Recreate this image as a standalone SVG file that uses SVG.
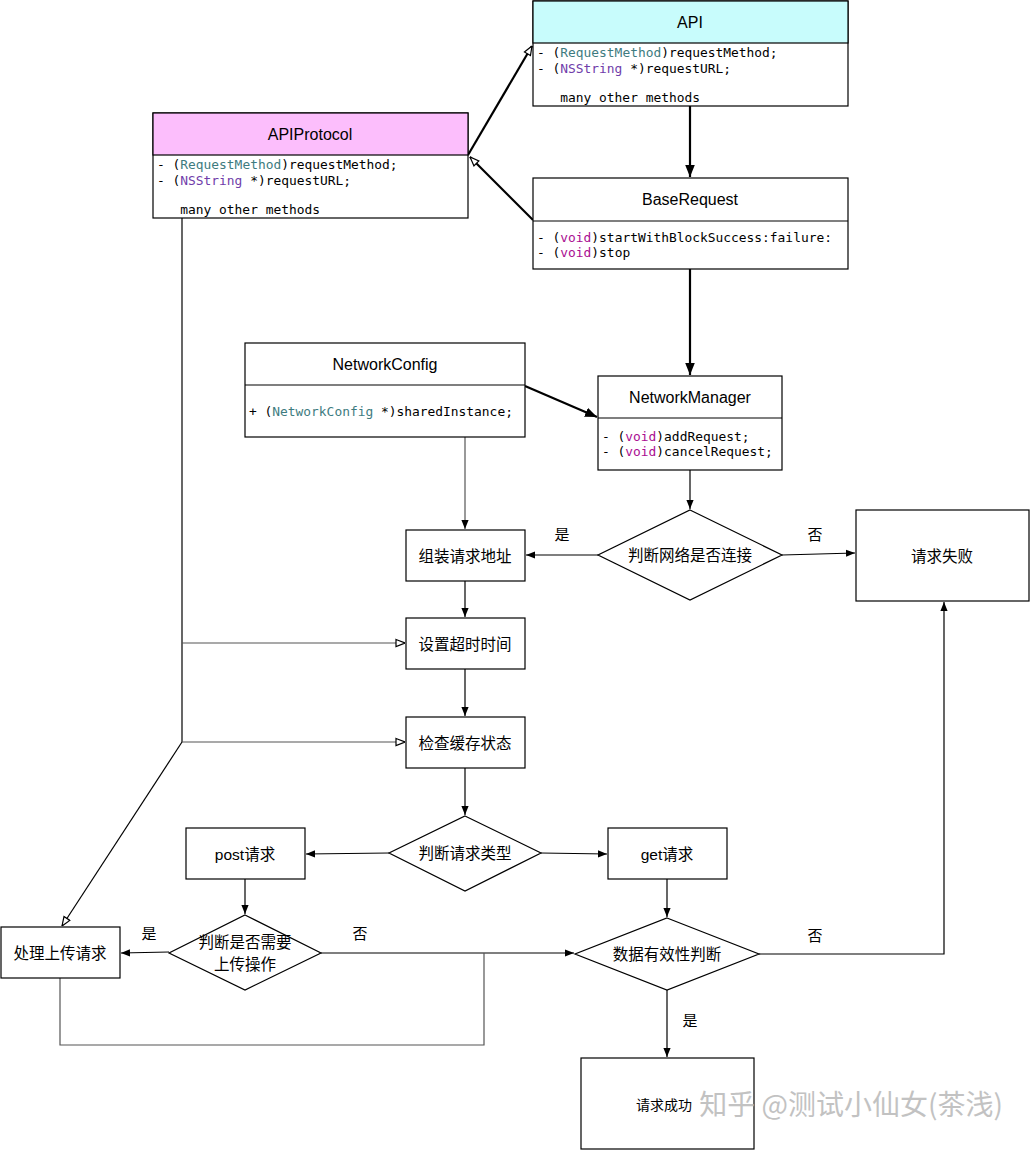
<svg xmlns="http://www.w3.org/2000/svg" width="1030" height="1150" viewBox="0 0 1030 1150">
<style>
.box{fill:#fff;stroke:#000;stroke-width:1.2}
.t{font-family:"Liberation Sans",Arial,sans-serif;font-size:16px;fill:#000;text-anchor:middle}
.c{font-family:"DejaVu Sans Mono","Liberation Mono",monospace;font-size:12.9px;fill:#000;white-space:pre}
.cn{font-family:"Liberation Sans","Noto Sans CJK SC",sans-serif;font-size:15.5px;fill:#000;text-anchor:middle}
.lab{font-family:"Noto Sans CJK SC",sans-serif;font-size:15px;fill:#000;text-anchor:middle}
.tl{fill:#3e7b80}.ns{fill:#703daa}.vd{fill:#aa0d91}
.ln{fill:none;stroke:#000;stroke-width:1.2}
.gl{fill:none;stroke:#555;stroke-width:1.2}
.th{fill:none;stroke:#000;stroke-width:2.2}
</style>
<defs>
<marker id="af" viewBox="0 0 10 10" refX="10" refY="5" markerWidth="9" markerHeight="9" markerUnits="userSpaceOnUse" orient="auto"><path d="M0,1 L10,5 L0,9 z" fill="#000"/></marker>
<marker id="ab" viewBox="0 0 10 10" refX="10" refY="5" markerWidth="12" markerHeight="12" markerUnits="userSpaceOnUse" orient="auto"><path d="M0,1 L10,5 L0,9 z" fill="#000"/></marker>
<marker id="ah" viewBox="0 0 10 10" refX="10" refY="5" markerWidth="10" markerHeight="10" markerUnits="userSpaceOnUse" orient="auto"><path d="M1,1.5 L10,5 L1,8.5 z" fill="#fff" stroke="#000" stroke-width="1.2"/></marker>
</defs>
<rect width="1030" height="1150" fill="#fff"/>

<g id="connectors">
<path class="th" d="M468,155 L532,46" marker-end="url(#ah)"/>
<path class="th" d="M533,220 L470,157" marker-end="url(#ah)"/>
<path class="th" d="M690,106 L690,177" marker-end="url(#ab)"/>
<path class="th" d="M690,269 L690,375" marker-end="url(#ab)"/>
<path class="th" d="M525,386 L597,417" marker-end="url(#ab)"/>
<path class="ln" d="M690,470 L690,509" marker-end="url(#af)"/>
<path class="ln" d="M598,555 L526,555" marker-end="url(#af)"/>
<path class="ln" d="M782,555 L855,553" marker-end="url(#af)"/>
<path class="gl" d="M465,437 L465,529" marker-end="url(#af)"/>
<path class="ln" d="M465,581 L465,617" marker-end="url(#af)"/>
<path class="ln" d="M465,669 L465,716" marker-end="url(#af)"/>
<path class="ln" d="M465,768 L465,815" marker-end="url(#af)"/>
<path class="ln" d="M389,853 L306,854" marker-end="url(#af)"/>
<path class="ln" d="M541,853 L607,854" marker-end="url(#af)"/>
<path class="ln" d="M245,879 L245,914" marker-end="url(#af)"/>
<path class="ln" d="M667,879 L667,917" marker-end="url(#af)"/>
<path class="ln" d="M169,952 L121,953" marker-end="url(#af)"/>
<path class="ln" d="M321,953 L574,953" marker-end="url(#af)"/>
<path class="gl" d="M60,978 L60,1045 L484,1045 L484,953"/>
<path class="ln" d="M759,954 L944,954 L944,602" marker-end="url(#af)"/>
<path class="ln" d="M667,990 L667,1057" marker-end="url(#af)"/>
<path class="ln" d="M182,218 L182,742"/>
<path class="gl" d="M182,643 L405,643" marker-end="url(#ah)"/>
<path class="gl" d="M182,742 L405,742" marker-end="url(#ah)"/>
<path class="ln" d="M182,742 L62,926" marker-end="url(#ah)"/>
</g>

<g id="labels">
<text class="lab" x="562" y="540">是</text>
<text class="lab" x="815" y="540">否</text>
<text class="lab" x="149" y="939">是</text>
<text class="lab" x="360" y="939">否</text>
<text class="lab" x="815" y="941">否</text>
<text class="lab" x="690" y="1026">是</text>
</g>

<g id="API">
<rect class="box" x="533" y="1" width="315" height="105"/>
<rect x="533" y="1" width="315" height="42" fill="#c8fcfc" stroke="#000" stroke-width="1.2"/>
<text class="t" x="690" y="28">API</text>
<text class="c" x="537" y="57">- (<tspan class="tl">RequestMethod</tspan>)requestMethod;</text>
<text class="c" x="537" y="73">- (<tspan class="ns">NSString</tspan> *)requestURL;</text>
<text class="c" x="537" y="102">   many other methods</text>
</g>

<g id="APIProtocol">
<rect class="box" x="153" y="113" width="315" height="105"/>
<rect x="153" y="113" width="315" height="42" fill="#fcbefc" stroke="#000" stroke-width="1.2"/>
<text class="t" x="310" y="140">APIProtocol</text>
<text class="c" x="157" y="169">- (<tspan class="tl">RequestMethod</tspan>)requestMethod;</text>
<text class="c" x="157" y="185">- (<tspan class="ns">NSString</tspan> *)requestURL;</text>
<text class="c" x="157" y="214">   many other methods</text>
</g>

<g id="BaseRequest">
<rect class="box" x="533" y="178" width="315" height="91"/>
<line x1="533" y1="221" x2="848" y2="221" stroke="#000" stroke-width="1.2"/>
<text class="t" x="690" y="205">BaseRequest</text>
<text class="c" x="537" y="242">- (<tspan class="vd">void</tspan>)startWithBlockSuccess:failure:</text>
<text class="c" x="537" y="257">- (<tspan class="vd">void</tspan>)stop</text>
</g>

<g id="NetworkConfig">
<rect class="box" x="245" y="343" width="280" height="94"/>
<line x1="245" y1="385" x2="525" y2="385" stroke="#000" stroke-width="1.2"/>
<text class="t" x="385" y="370">NetworkConfig</text>
<text class="c" x="249" y="416">+ (<tspan class="tl">NetworkConfig</tspan> *)sharedInstance;</text>
</g>

<g id="NetworkManager">
<rect class="box" x="598" y="376" width="184" height="94"/>
<line x1="598" y1="418" x2="782" y2="418" stroke="#000" stroke-width="1.2"/>
<text class="t" x="690" y="403">NetworkManager</text>
<text class="c" x="602" y="441">- (<tspan class="vd">void</tspan>)addRequest;</text>
<text class="c" x="602" y="456">- (<tspan class="vd">void</tspan>)cancelRequest;</text>
</g>

<g id="checkNetwork">
<polygon class="box" points="690,510 782,555 690,600 598,555"/>
<text class="cn" x="690" y="561">判断网络是否连接</text>
</g>

<g id="fail">
<rect class="box" x="856" y="510" width="173" height="91"/>
<text class="cn" x="942" y="562">请求失败</text>
</g>

<g id="buildURL">
<rect class="box" x="406" y="530" width="119" height="51"/>
<text class="cn" x="465" y="562">组装请求地址</text>
</g>

<g id="timeout">
<rect class="box" x="406" y="618" width="119" height="51"/>
<text class="cn" x="465" y="650">设置超时时间</text>
</g>

<g id="cache">
<rect class="box" x="406" y="717" width="119" height="51"/>
<text class="cn" x="465" y="749">检查缓存状态</text>
</g>

<g id="reqType">
<polygon class="box" points="465,816 541,853 465,891 389,853"/>
<text class="cn" x="465" y="859">判断请求类型</text>
</g>

<g id="post">
<rect class="box" x="186" y="828" width="119" height="51"/>
<text class="cn" x="245" y="860">post请求</text>
</g>

<g id="get">
<rect class="box" x="608" y="828" width="119" height="51"/>
<text class="cn" x="667" y="860">get请求</text>
</g>

<g id="needUpload">
<polygon class="box" points="245,915 321,953 245,990 169,953"/>
<text class="cn" x="245" y="948">判断是否需要</text>
<text class="cn" x="245" y="970">上传操作</text>
</g>

<g id="upload">
<rect class="box" x="1" y="927" width="119" height="51"/>
<text class="cn" x="60" y="959">处理上传请求</text>
</g>

<g id="validate">
<polygon class="box" points="667,918 759,954 667,990 575,954"/>
<text class="cn" x="667" y="960">数据有效性判断</text>
</g>

<g id="success">
<rect class="box" x="581" y="1058" width="173" height="91"/>
<text class="cn" x="664" y="1110" style="font-size:14px">请求成功</text>
</g>

<text x="1003" y="1115" style="font-family:'Noto Sans CJK SC',sans-serif;font-size:28px;fill:#b8b8b8;text-anchor:end;opacity:0.85">知乎 @测试小仙女(茶浅)</text>
</svg>
